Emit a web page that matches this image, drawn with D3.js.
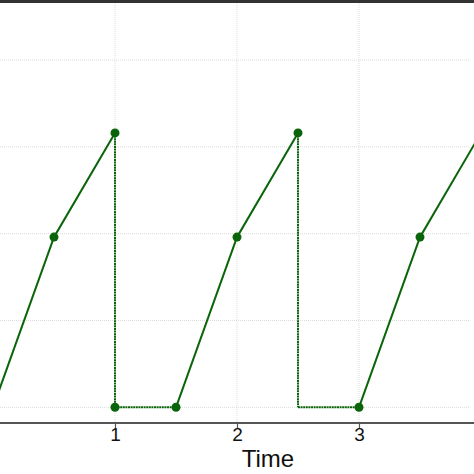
<!DOCTYPE html>
<html>
<head>
<meta charset="utf-8">
<script src="https://d3js.org/d3.v7.min.js"></script>
<style>
  body { margin: 0; background: #fff; }
  svg { display: block; font-family: "Liberation Sans", Arial, sans-serif; }
</style>
</head>
<body>
<div id="chart"></div>
<script>
// Chart data
var times = [0, 0.5, 1, 1, 1.5, 2, 2.5, 2.5, 3, 3.5, 4];
var values = [0, 0.98, 1.58, 0, 0, 0.98, 1.58, 0, 0, 0.98, 1.58];
var marked = [true, true, true, true, true, true, true, false, true, true, true];
var xTicks = [1, 2, 3];
var yTicks = [0, 0.5, 1, 1.5, 2];

var svgWidth = 474;
var svgHeight = 474;

var svg = d3
  .select("#chart")
  .append("svg")
  .attr("width", svgWidth)
  .attr("height", svgHeight);

// scales (plot area runs past the window on both sides)
var xScale = d3.scaleLinear().domain([1, 3]).range([115, 359]);
var yScale = d3.scaleLinear().domain([0, 2]).range([407.3, 60]);

var axisY = 423;

// grid
svg
  .append("g")
  .selectAll("line")
  .data(yTicks)
  .enter()
  .append("line")
  .attr("x1", 0)
  .attr("x2", 470)
  .attr("y1", (d) => yScale(d))
  .attr("y2", (d) => yScale(d))
  .attr("stroke", "#dcdcdc")
  .attr("stroke-width", 1)
  .attr("stroke-dasharray", "1,1");

svg
  .append("g")
  .selectAll("line")
  .data(xTicks)
  .enter()
  .append("line")
  .attr("x1", (d) => xScale(d))
  .attr("x2", (d) => xScale(d))
  .attr("y1", 3)
  .attr("y2", axisY)
  .attr("stroke", "#dcdcdc")
  .attr("stroke-width", 1)
  .attr("stroke-dasharray", "1,1");

// top border
svg
  .append("line")
  .attr("x1", 0)
  .attr("x2", svgWidth)
  .attr("y1", 1.5)
  .attr("y2", 1.5)
  .attr("stroke", "#333")
  .attr("stroke-width", 3);

// x axis
var bottomAxis = d3
  .axisBottom(xScale)
  .tickValues(xTicks)
  .tickFormat(d3.format("d"))
  .tickSize(5)
  .tickSizeOuter(0);

var xAxis = svg
  .append("g")
  .attr("transform", `translate(0, ${axisY})`)
  .call(bottomAxis);

xAxis.select(".domain").remove();
xAxis
  .append("line")
  .attr("x1", 0)
  .attr("x2", svgWidth)
  .attr("stroke", "#555")
  .attr("stroke-width", 2);
xAxis.selectAll(".tick line").attr("stroke", "#555").attr("stroke-width", 1.2);
xAxis
  .selectAll(".tick text")
  .attr("y", 5)
  .attr("fill", "#111")
  .style("font-size", "19px")
  .style("font-family", "'Liberation Sans', Arial, sans-serif");

svg
  .append("text")
  .attr("x", 268)
  .attr("y", 467)
  .attr("text-anchor", "middle")
  .attr("fill", "#111")
  .style("font-size", "24px")
  .text("Time");

// line segments: ramps solid, resets dotted
var pts = times.map((t, i) => ({ t: t, v: values[i], m: marked[i] }));
var green = "#0a640a";

var segGroup = svg.append("g");
for (var i = 1; i < pts.length; i++) {
  var a = pts[i - 1];
  var b = pts[i];
  var reset = b.v <= a.v;
  segGroup
    .append("line")
    .attr("x1", xScale(a.t))
    .attr("y1", yScale(a.v))
    .attr("x2", xScale(b.t))
    .attr("y2", yScale(b.v))
    .attr("stroke", green)
    .attr("stroke-width", 2)
    .attr("stroke-dasharray", reset ? "2,0.6" : null);
}

// markers
svg
  .append("g")
  .selectAll("circle")
  .data(pts.filter((d) => d.m))
  .enter()
  .append("circle")
  .attr("cx", (d) => xScale(d.t))
  .attr("cy", (d) => yScale(d.v))
  .attr("r", 4.5)
  .attr("fill", green);
</script>
</body>
</html>
